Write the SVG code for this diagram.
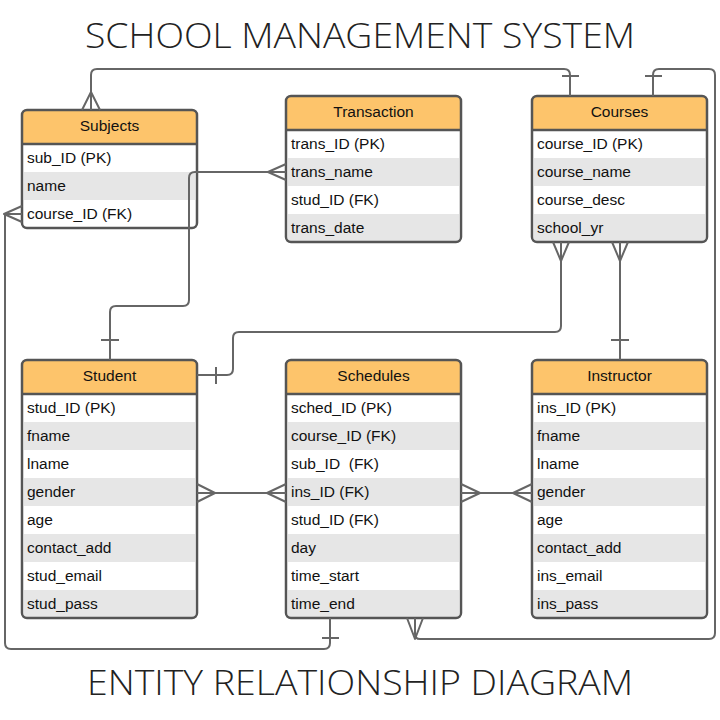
<svg xmlns="http://www.w3.org/2000/svg" width="720" height="720" viewBox="0 0 720 720">
<style>
.title{font-family:"Open Sans","Liberation Sans",sans-serif;font-weight:300;font-size:34px;fill:#222;text-anchor:middle}
.box{fill:none;stroke:#555;stroke-width:2.5}
.bg{fill:#fff}
.hd{fill:#fdc46b}
.sh{fill:#e6e6e6}
.sep{stroke:#555;stroke-width:2.5}
.ht{font-family:"Liberation Sans",Arial,sans-serif;font-size:15.5px;fill:#111;text-anchor:middle}
.rt{font-family:"Liberation Sans",Arial,sans-serif;font-size:15.5px;fill:#111}
.cn{fill:none;stroke:#666;stroke-width:2;stroke-linejoin:round}
</style>
<rect width="720" height="720" fill="#fff"/>
<text class="title" x="360" y="48" textLength="550" lengthAdjust="spacingAndGlyphs">SCHOOL MANAGEMENT SYSTEM</text>
<text class="title" x="360" y="695" textLength="546" lengthAdjust="spacingAndGlyphs">ENTITY RELATIONSHIP DIAGRAM</text>

<g id="subjects">
  <rect class="bg" x="22" y="110" width="175" height="118" rx="5"/>
  <path class="hd" d="M22,144 V115 Q22,110 27,110 H192 Q197,110 197,115 V144 Z"/>
  <rect class="sh" x="24" y="172" width="171" height="28"/>
  <line class="sep" x1="22" y1="144" x2="197" y2="144"/>
  <rect class="box" x="22" y="110" width="175" height="118" rx="5"/>
  <text class="ht" x="109.5" y="131">Subjects</text>
  <text class="rt" x="27" y="163">sub_ID (PK)</text>
  <text class="rt" x="27" y="191">name</text>
  <text class="rt" x="27" y="219">course_ID (FK)</text>
</g>

<g id="transaction">
  <rect class="bg" x="286" y="96" width="175" height="146" rx="5"/>
  <path class="hd" d="M286,130 V101 Q286,96 291,96 H456 Q461,96 461,101 V130 Z"/>
  <rect class="sh" x="288" y="158" width="171" height="28"/>
  <rect class="sh" x="288" y="214" width="171" height="27"/>
  <line class="sep" x1="286" y1="130" x2="461" y2="130"/>
  <rect class="box" x="286" y="96" width="175" height="146" rx="5"/>
  <text class="ht" x="373.5" y="117">Transaction</text>
  <text class="rt" x="291" y="149">trans_ID (PK)</text>
  <text class="rt" x="291" y="177">trans_name</text>
  <text class="rt" x="291" y="205">stud_ID (FK)</text>
  <text class="rt" x="291" y="233">trans_date</text>
</g>

<g id="courses">
  <rect class="bg" x="532" y="96" width="175" height="146" rx="5"/>
  <path class="hd" d="M532,130 V101 Q532,96 537,96 H702 Q707,96 707,101 V130 Z"/>
  <rect class="sh" x="534" y="158" width="171" height="28"/>
  <rect class="sh" x="534" y="214" width="171" height="27"/>
  <line class="sep" x1="532" y1="130" x2="707" y2="130"/>
  <rect class="box" x="532" y="96" width="175" height="146" rx="5"/>
  <text class="ht" x="619.5" y="117">Courses</text>
  <text class="rt" x="537" y="149">course_ID (PK)</text>
  <text class="rt" x="537" y="177">course_name</text>
  <text class="rt" x="537" y="205">course_desc</text>
  <text class="rt" x="537" y="233">school_yr</text>
</g>

<g id="student">
  <rect class="bg" x="22" y="360" width="175" height="258" rx="5"/>
  <path class="hd" d="M22,394 V365 Q22,360 27,360 H192 Q197,360 197,365 V394 Z"/>
  <rect class="sh" x="24" y="422" width="171" height="28"/>
  <rect class="sh" x="24" y="478" width="171" height="28"/>
  <rect class="sh" x="24" y="534" width="171" height="28"/>
  <rect class="sh" x="24" y="590" width="171" height="27"/>
  <line class="sep" x1="22" y1="394" x2="197" y2="394"/>
  <rect class="box" x="22" y="360" width="175" height="258" rx="5"/>
  <text class="ht" x="109.5" y="381">Student</text>
  <text class="rt" x="27" y="413">stud_ID (PK)</text>
  <text class="rt" x="27" y="441">fname</text>
  <text class="rt" x="27" y="469">lname</text>
  <text class="rt" x="27" y="497">gender</text>
  <text class="rt" x="27" y="525">age</text>
  <text class="rt" x="27" y="553">contact_add</text>
  <text class="rt" x="27" y="581">stud_email</text>
  <text class="rt" x="27" y="609">stud_pass</text>
</g>

<g id="schedules">
  <rect class="bg" x="286" y="360" width="175" height="258" rx="5"/>
  <path class="hd" d="M286,394 V365 Q286,360 291,360 H456 Q461,360 461,365 V394 Z"/>
  <rect class="sh" x="288" y="422" width="171" height="28"/>
  <rect class="sh" x="288" y="478" width="171" height="28"/>
  <rect class="sh" x="288" y="534" width="171" height="28"/>
  <rect class="sh" x="288" y="590" width="171" height="27"/>
  <line class="sep" x1="286" y1="394" x2="461" y2="394"/>
  <rect class="box" x="286" y="360" width="175" height="258" rx="5"/>
  <text class="ht" x="373.5" y="381">Schedules</text>
  <text class="rt" x="291" y="413">sched_ID (PK)</text>
  <text class="rt" x="291" y="441">course_ID (FK)</text>
  <text class="rt" x="291" y="469" xml:space="preserve">sub_ID  (FK)</text>
  <text class="rt" x="291" y="497">ins_ID (FK)</text>
  <text class="rt" x="291" y="525">stud_ID (FK)</text>
  <text class="rt" x="291" y="553">day</text>
  <text class="rt" x="291" y="581">time_start</text>
  <text class="rt" x="291" y="609">time_end</text>
</g>

<g id="instructor">
  <rect class="bg" x="532" y="360" width="175" height="258" rx="5"/>
  <path class="hd" d="M532,394 V365 Q532,360 537,360 H702 Q707,360 707,365 V394 Z"/>
  <rect class="sh" x="534" y="422" width="171" height="28"/>
  <rect class="sh" x="534" y="478" width="171" height="28"/>
  <rect class="sh" x="534" y="534" width="171" height="28"/>
  <rect class="sh" x="534" y="590" width="171" height="27"/>
  <line class="sep" x1="532" y1="394" x2="707" y2="394"/>
  <rect class="box" x="532" y="360" width="175" height="258" rx="5"/>
  <text class="ht" x="619.5" y="381">Instructor</text>
  <text class="rt" x="537" y="413">ins_ID (PK)</text>
  <text class="rt" x="537" y="441">fname</text>
  <text class="rt" x="537" y="469">lname</text>
  <text class="rt" x="537" y="497">gender</text>
  <text class="rt" x="537" y="525">age</text>
  <text class="rt" x="537" y="553">contact_add</text>
  <text class="rt" x="537" y="581">ins_email</text>
  <text class="rt" x="537" y="609">ins_pass</text>
</g>

<g id="connectors">
  <path class="cn" d="M91,110 V75 Q91,69 97,69 H564 Q570,69 570,75 V96"/>
  <path class="cn" d="M82,110 L91,92 L100,110 M91,92 V110"/>
  <path class="cn" d="M562,76 H579"/>
  <path class="cn" d="M653,96 V75 Q653,69 659,69 H709 Q715,69 715,75 V633 Q715,639 709,639 H420 Q415,639 415,634 V618"/>
  <path class="cn" d="M645,76 H662"/>
  <path class="cn" d="M407,618 L415,639 L423,618"/>
  <path class="cn" d="M22,214 H5 V643 Q5,649 11,649 H324 Q330,649 330,643 V618"/>
  <path class="cn" d="M22,206 L4,214 L22,222"/>
  <path class="cn" d="M322,638 H339"/>
  <path class="cn" d="M286,172 H195 Q189,172 189,178 V300 Q189,306 183,306 H116 Q110,306 110,312 V360"/>
  <path class="cn" d="M286,164 L268,172 L286,180"/>
  <path class="cn" d="M101,340 H119"/>
  <path class="cn" d="M561,242 V326 Q561,332 555,332 H239 Q233,332 233,338 V369 Q233,375 227,375 H197"/>
  <path class="cn" d="M553,242 L561,261 L569,242"/>
  <path class="cn" d="M216,367 V384"/>
  <path class="cn" d="M620,242 V360"/>
  <path class="cn" d="M612,242 L620,261 L628,242"/>
  <path class="cn" d="M611,340 H629"/>
  <path class="cn" d="M197,493 H286"/>
  <path class="cn" d="M197,484 L215,493 L197,502"/>
  <path class="cn" d="M286,484 L267,493 L286,502"/>
  <path class="cn" d="M461,493 H532"/>
  <path class="cn" d="M461,484 L480,493 L461,502"/>
  <path class="cn" d="M532,484 L513,493 L532,502"/>
</g>
</svg>
